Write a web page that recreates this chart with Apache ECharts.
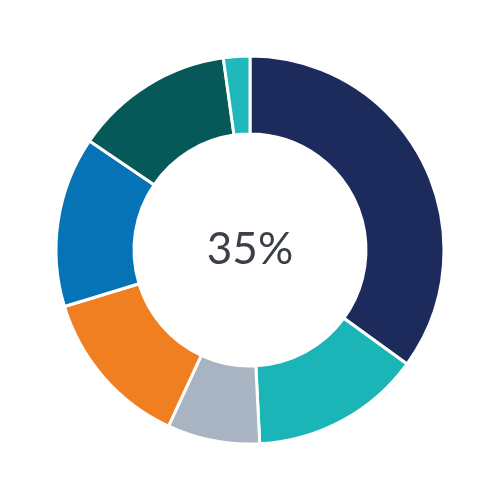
<!DOCTYPE html>
<html><head><meta charset="utf-8">
<script src="https://cdn.jsdelivr.net/npm/echarts@6/dist/echarts.min.js"></script>
<style>html,body{margin:0;padding:0;background:#fff}#c{width:500px;height:500px}</style>
</head><body><div id="c"></div>
<script>
const categories = ['A','B','C','D','E','F','G'];
const values = [35, 14.2, 7.7, 13.4, 14.2, 13.3, 2.2];
const colors = ['#1c2b5b','#1bb5b7','#a9b4c3','#f07f22','#0573b6','#065859','#1fb8bd'];
const centerLabel = '35%';
const chart = echarts.init(document.getElementById('c'));
chart.setOption({
  animation:false,
  title:{text:centerLabel,left:'center',top:'middle',textStyle:{fontSize:44,fontWeight:'normal',color:'#3b3f48',fontFamily:'Lato, Open Sans, sans-serif'}},
  series:[{
    type:'pie',center:['50%','50%'],radius:[116,194],startAngle:90,clockwise:true,
    label:{show:false},labelLine:{show:false},silent:true,
    itemStyle:{borderColor:'#fff',borderWidth:3},
    data:categories.map((c,i)=>({name:c,value:values[i],itemStyle:{color:colors[i]}}))
  }]
});
</script></body></html>
